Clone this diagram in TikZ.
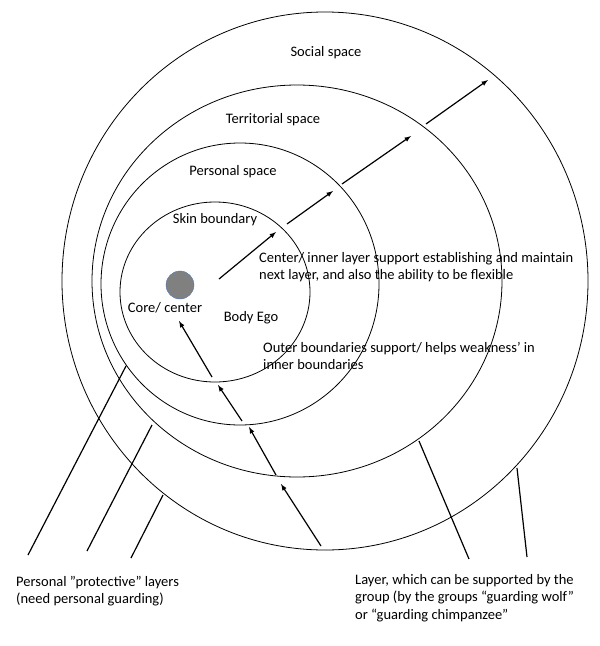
\documentclass[tikz,border=0pt]{standalone}
\usepackage{fontspec}
\setmainfont{Carlito}
\usetikzlibrary{positioning}
\definecolor{coregray}{RGB}{128,128,128}
\definecolor{coreblue}{RGB}{80,120,180}
\tikzset{
  layer/.style={draw, thick},
  lbl/.style={font=\fontsize{14.5}{17.5}\selectfont, inner sep=0pt},
  txt/.style={lbl, align=left, anchor=north west},
  supp/.style={-latex, very thick},
  guard/.style={very thick}
}
\begin{document}
\begin{tikzpicture}[x=1pt, y=-1pt]
    \useasboundingbox (0,0) rectangle (600,646);
    % layers, outer to inner
    \draw[layer] (325,281) ellipse [x radius=263, y radius=269];
    \draw[layer] (297,281) ellipse [x radius=205, y radius=196];
    \draw[layer] (240,284) ellipse [x radius=139, y radius=141];
    \draw[layer] (215,292) ellipse [x radius=95, y radius=90];
    \node[circle, draw=coreblue, fill=coregray, minimum size=28pt, inner sep=0pt] (core) at (180,285) {};
    % layer names
    \node[lbl] (social) at (326,53) {Social space};
    \node[lbl] (terr) at (273,120) {Territorial space};
    \node[lbl] (pers) at (233,172) {Personal space};
    \node[lbl] (skin) at (215,220) {Skin boundary};
    \node[lbl] (corelbl) at (165,308) {Core/ center};
    \node[lbl] (ego) at (251,318) {Body Ego};
    \node[txt] (outward) at (259,252) {Center/ inner layer support establishing and maintain\\next layer, and also the ability to be flexible};
    \node[txt] (inward) at (263,342) {Outer boundaries support/ helps weakness’ in\\inner boundaries};
    \node[txt] (personal) at (16,576) {Personal ”protective” layers\\(need personal guarding)};
    \node[txt] (group) at (355,574) {Layer, which can be supported by the\\group (by the groups “guarding wolf”\\or “guarding chimpanzee”};
    % support arrows
    \coordinate (o1) at (219,279); \coordinate (o2) at (276,232);
    \coordinate (o3) at (287,224); \coordinate (o4) at (333,191);
    \coordinate (o5) at (342,184); \coordinate (o6) at (411,136);
    \coordinate (o7) at (426,124); \coordinate (o8) at (488,80);
    \foreach \a/\b in {o1/o2, o3/o4, o5/o6, o7/o8}
      \draw[supp] (\a) -- (\b);
    \coordinate (i1) at (212,377); \coordinate (i2) at (179,321);
    \coordinate (i3) at (242,421); \coordinate (i4) at (218,385);
    \coordinate (i5) at (276,475); \coordinate (i6) at (249,427);
    \coordinate (i7) at (321,546); \coordinate (i8) at (281,484);
    \foreach \a/\b in {i1/i2, i3/i4, i5/i6, i7/i8}
      \draw[supp] (\a) -- (\b);
    % pointers to the layers
    \coordinate (p1) at (126,366); \coordinate (q1) at (28,555);
    \coordinate (p2) at (152,425); \coordinate (q2) at (87,551);
    \coordinate (p3) at (163,495); \coordinate (q3) at (131,558);
    \coordinate (g1) at (419,441); \coordinate (h1) at (469,559);
    \coordinate (g2) at (517,468); \coordinate (h2) at (527,557);
    \foreach \a/\b in {p1/q1, p2/q2, p3/q3, g1/h1, g2/h2}
      \draw[guard] (\a) -- (\b);
\end{tikzpicture}
\end{document}
